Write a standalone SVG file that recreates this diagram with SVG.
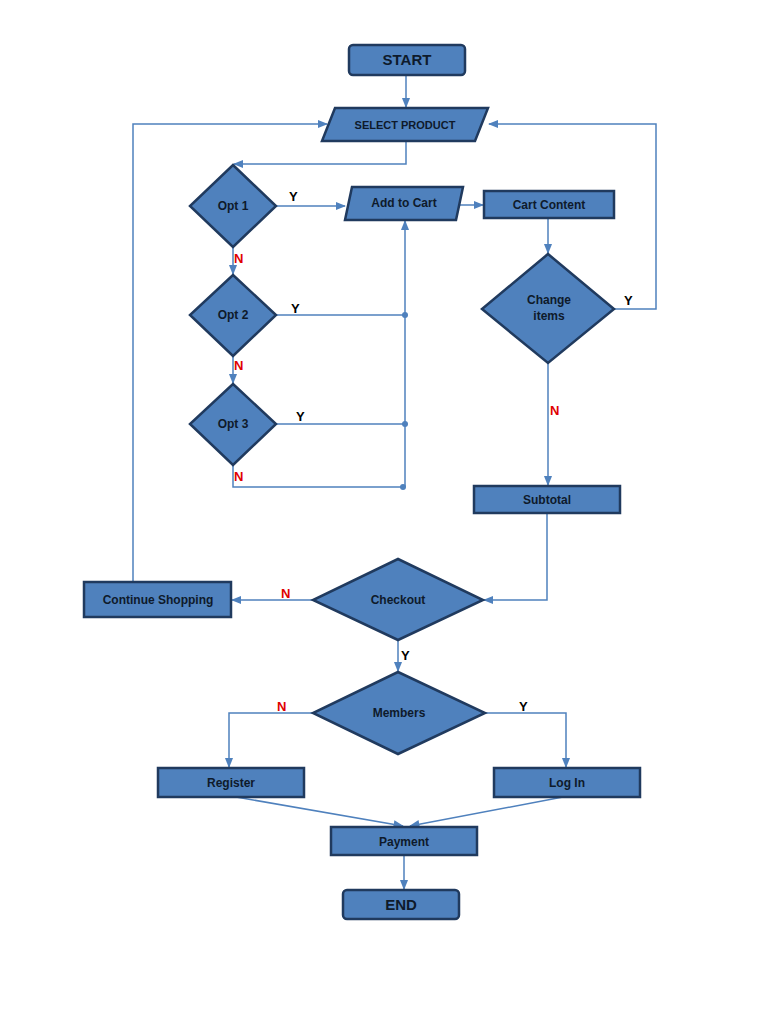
<svg xmlns="http://www.w3.org/2000/svg" width="768" height="1024" viewBox="0 0 768 1024">
<style>
.n{fill:#4f81bd;stroke:#203a5e;stroke-width:2.5}
.t{font-family:"Liberation Sans",Arial,sans-serif;font-weight:bold;font-size:12px;fill:#0e1a2b;text-anchor:middle}
.b{font-size:15px}
.c{fill:none;stroke:#4f81bd;stroke-width:1.5}
.y{font-family:"Liberation Sans",Arial,sans-serif;font-weight:bold;font-size:13px;fill:#000}
.r{fill:#e00000}
</style>
<defs>
<marker id="a" viewBox="0 0 10 10" refX="9" refY="5" markerWidth="7" markerHeight="7" orient="auto"><path d="M0,1 L10,5 L0,9 z" fill="#4f81bd"/></marker>
</defs>
<rect width="768" height="1024" fill="#fff"/>
<g id="connectors">
<path class="c" d="M406,75 V107" marker-end="url(#a)"/>
<path class="c" d="M406,141 V164 H234" marker-end="url(#a)"/>
<path class="c" d="M276,206 H345" marker-end="url(#a)"/>
<path class="c" d="M460,205 H483" marker-end="url(#a)"/>
<path class="c" d="M548,218 V253" marker-end="url(#a)"/>
<path class="c" d="M614,309 H656 V124 H489" marker-end="url(#a)"/>
<path class="c" d="M548,363 V485" marker-end="url(#a)"/>
<path class="c" d="M547,513 V600 H484" marker-end="url(#a)"/>
<path class="c" d="M313,600 H232" marker-end="url(#a)"/>
<path class="c" d="M133,582 V124 H327" marker-end="url(#a)"/>
<path class="c" d="M398,640 V671" marker-end="url(#a)"/>
<path class="c" d="M313,713 H229 V767" marker-end="url(#a)"/>
<path class="c" d="M485,713 H566 V767" marker-end="url(#a)"/>
<path class="c" d="M236,797 L403,826" marker-end="url(#a)"/>
<path class="c" d="M563,797 L410,826" marker-end="url(#a)"/>
<path class="c" d="M404,855 V889" marker-end="url(#a)"/>
<path class="c" d="M233,247 V274" marker-end="url(#a)"/>
<path class="c" d="M233,356 V383" marker-end="url(#a)"/>
<path class="c" d="M276,315 H405"/>
<path class="c" d="M276,424 H405"/>
<path class="c" d="M233,465 V487 H405"/>
<path class="c" d="M405,487 V221" marker-end="url(#a)"/>
<circle cx="405" cy="315" r="3" fill="#4f81bd"/>
<circle cx="405" cy="424" r="3" fill="#4f81bd"/>
<circle cx="403" cy="487" r="3" fill="#4f81bd"/>
<text class="y" x="289" y="201">Y</text>
<text class="y" x="291" y="313">Y</text>
<text class="y" x="296" y="421">Y</text>
<text class="y" x="624" y="305">Y</text>
<text class="y" x="401" y="660">Y</text>
<text class="y" x="519" y="711">Y</text>
<text class="y r" x="234" y="263">N</text>
<text class="y r" x="234" y="370">N</text>
<text class="y r" x="234" y="481">N</text>
<text class="y r" x="550" y="415">N</text>
<text class="y r" x="281" y="598">N</text>
<text class="y r" x="277" y="711">N</text>
</g>
<g id="start"><rect class="n" x="349" y="45" width="116" height="30" rx="4"/><text class="t b" x="407" y="65">START</text></g>
<g id="select"><polygon class="n" points="335,108 488,108 475,141 322,141"/><text class="t" x="405" y="129" style="font-size:11px">SELECT PRODUCT</text></g>
<g id="opt1"><polygon class="n" points="233,165 276,206 233,247 190,206"/><text class="t" x="233" y="210">Opt 1</text></g>
<g id="opt2"><polygon class="n" points="233,275 276,315 233,356 190,315"/><text class="t" x="233" y="319">Opt 2</text></g>
<g id="opt3"><polygon class="n" points="233,384 276,424 233,465 190,424"/><text class="t" x="233" y="428">Opt 3</text></g>
<g id="addcart"><polygon class="n" points="352,187 463,187 456,220 345,220"/><text class="t" x="404" y="207">Add to Cart</text></g>
<g id="cartcontent"><rect class="n" x="484" y="191" width="130" height="27"/><text class="t" x="549" y="209">Cart Content</text></g>
<g id="change"><polygon class="n" points="548,254 614,309 548,363 482,309"/><text class="t" x="549" y="304">Change</text><text class="t" x="549" y="320">items</text></g>
<g id="subtotal"><rect class="n" x="474" y="486" width="146" height="27"/><text class="t" x="547" y="504">Subtotal</text></g>
<g id="checkout"><polygon class="n" points="398,559 483,600 398,640 313,600"/><text class="t" x="398" y="604">Checkout</text></g>
<g id="continue"><rect class="n" x="84" y="582" width="147" height="35"/><text class="t" x="158" y="604">Continue Shopping</text></g>
<g id="members"><polygon class="n" points="398,672 485,713 398,754 313,713"/><text class="t" x="399" y="717">Members</text></g>
<g id="register"><rect class="n" x="158" y="768" width="146" height="29"/><text class="t" x="231" y="787">Register</text></g>
<g id="login"><rect class="n" x="494" y="768" width="146" height="29"/><text class="t" x="567" y="787">Log In</text></g>
<g id="payment"><rect class="n" x="331" y="827" width="146" height="28"/><text class="t" x="404" y="846">Payment</text></g>
<g id="end"><rect class="n" x="343" y="890" width="116" height="29" rx="4"/><text class="t b" x="401" y="910">END</text></g>
</svg>
